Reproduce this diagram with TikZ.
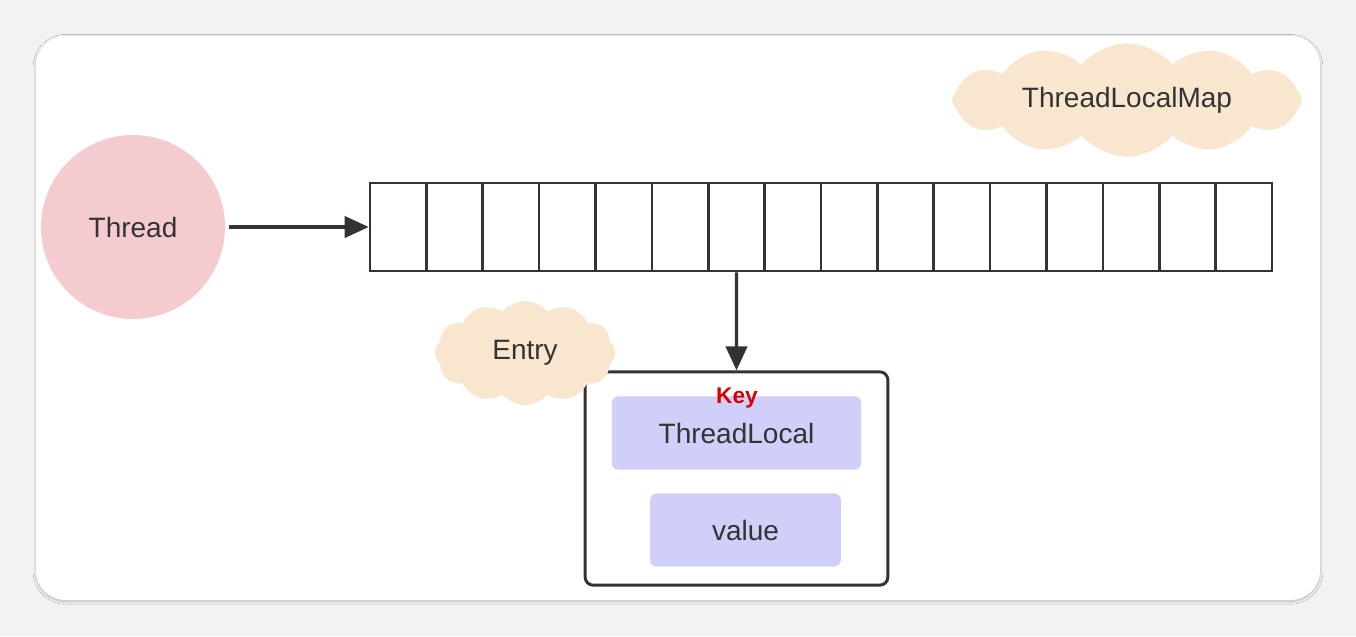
\documentclass[tikz,border=0pt]{standalone}
\usepackage{fontspec}
\setmainfont{Liberation Sans}
\usetikzlibrary{shapes.symbols,arrows.meta,shadows.blur}
\definecolor{bg}{HTML}{F2F2F2}
\definecolor{pinkc}{HTML}{F4CCD0}
\definecolor{cloudc}{HTML}{F8E6CF}
\definecolor{lav}{HTML}{CFCFFA}
\definecolor{ln}{HTML}{333333}
\begin{document}
\begin{tikzpicture}[x=0.75pt,y=-0.75pt,
  txt/.style={font=\fontsize{21}{25}\selectfont,text=ln},
  cell/.style={draw=ln,line width=2pt,minimum width=42.3pt,minimum height=66pt,inner sep=0pt},
  arr/.style={draw=ln,line width=2.4pt,-{Triangle[length=18pt,width=16pt]}},
  cl/.style={cloud,cloud puffs=12,cloud puff arc=100,cloud ignores aspect,inner sep=0pt,fill=cloudc,draw=none,txt},
  lbox/.style={fill=lav,rounded corners=5pt,draw=none,txt}]
\useasboundingbox (0,0) rectangle (1356,636);
\fill[bg] (0,0) rectangle (1356,636);
\fill[white,rounded corners=22pt,blur shadow={shadow blur steps=8,shadow xshift=0pt,shadow yshift=-1pt,shadow opacity=25}] (36,36) rectangle (1320,600);
\node[circle,fill=pinkc,minimum size=138pt,txt] (thread) at (133,227) {Thread};
\foreach \i in {0,...,15}{
  \node[cell] (c\i) at ({370+56.375*(\i+0.5)},227) {};
}
\draw[arr,line width=2.4pt,shorten <=3pt] (thread.east) -- (c0.west);
\node[cl,minimum width=262pt,minimum height=85pt] (tlm) at (1127,100) {ThreadLocalMap};
\node[draw=ln,line width=2.2pt,rounded corners=6pt,minimum width=227pt,minimum height=160pt] (entry) at (736.5,478.5) {};
\draw[arr] (c6.south) -- (entry.north);
\node[cl,minimum width=135pt,minimum height=78pt] (entryc) at (525,353) {Entry};
\node[lbox,minimum width=187pt,minimum height=55pt] (tl) at (736.5,433) {ThreadLocal};
\node[font=\bfseries\fontsize{17}{20}\selectfont,text=red!85!black] (key) at (737,398) {Key};
\node[lbox,minimum width=143pt,minimum height=55pt] (val) at (745.5,530) {value};
\end{tikzpicture}
\end{document}
